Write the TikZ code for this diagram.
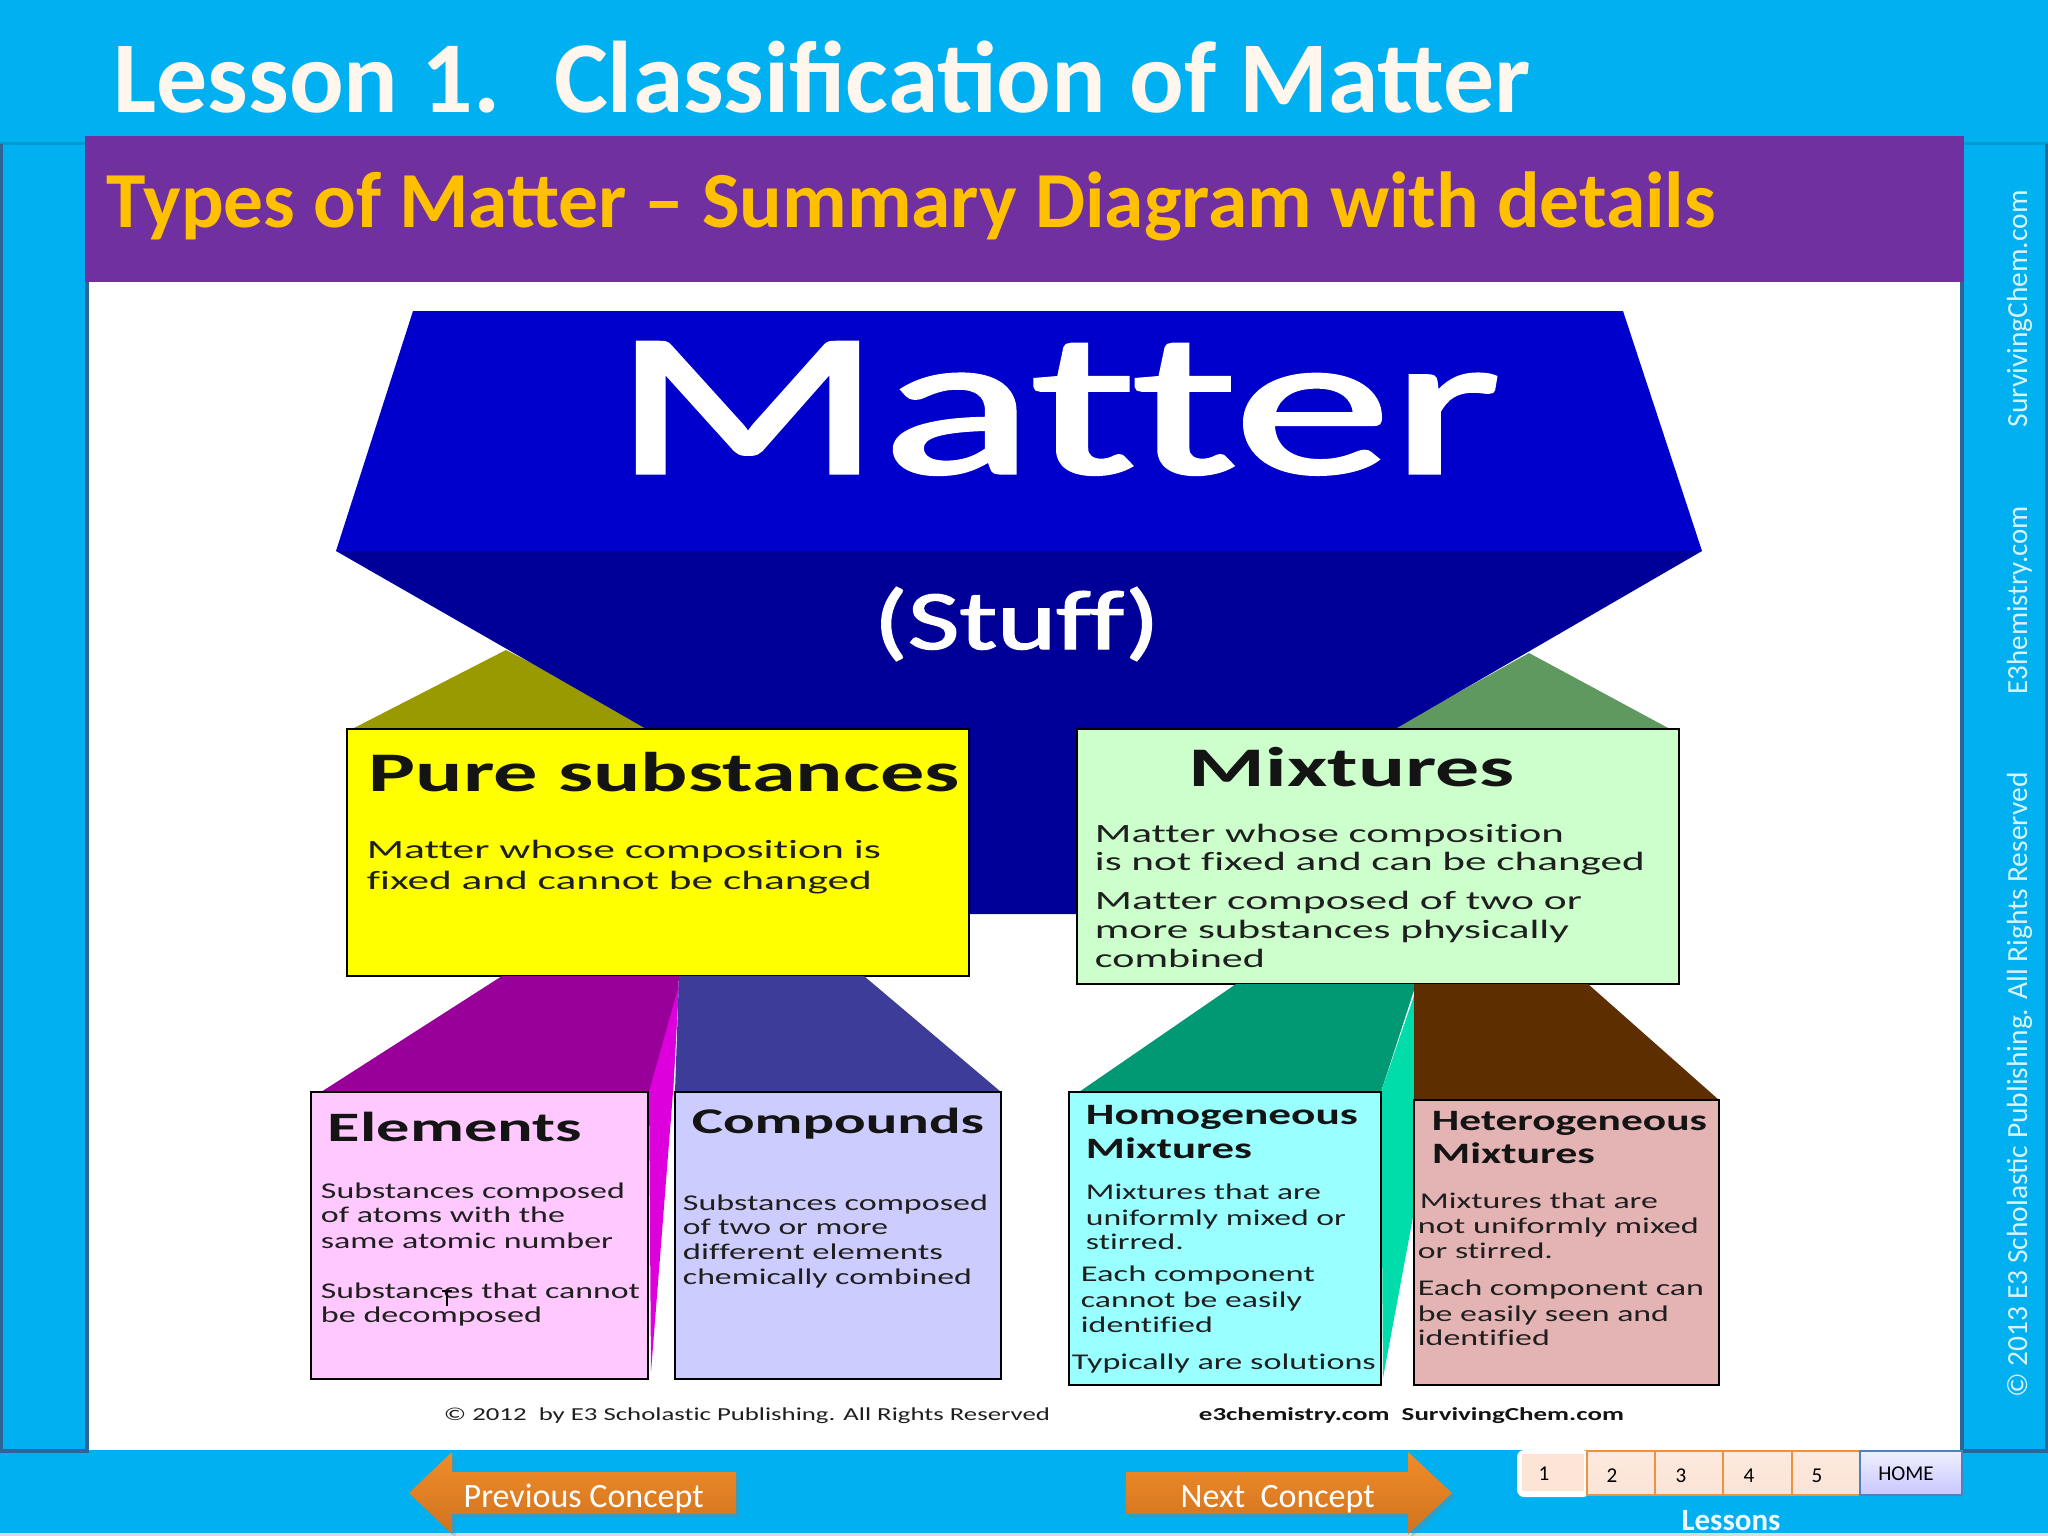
\documentclass[tikz,border=0pt]{standalone}
\usepackage{graphicx}
\usepackage{fontspec}
\setmainfont{Carlito}
\newfontfamily\imgfont[Ligatures=NoCommon]{Carlito}
\newfontfamily\midfont[Ligatures=NoCommon,FakeBold=1.6]{Carlito}
\usetikzlibrary{shadows}
\definecolor{skyband}{HTML}{00B0F0}
\definecolor{barline}{HTML}{2F6496}
\definecolor{plum}{HTML}{7030A0}
\definecolor{gold}{HTML}{FFC000}
\definecolor{topblue}{HTML}{0000CC}
\definecolor{lowblue}{HTML}{000099}
\definecolor{olive}{HTML}{999900}
\definecolor{sage}{HTML}{5F9960}
\definecolor{elemdark}{HTML}{990099}
\definecolor{elemside}{HTML}{DD00DD}
\definecolor{compdark}{HTML}{3D3D99}
\definecolor{homdark}{HTML}{009973}
\definecolor{homside}{HTML}{00DDAA}
\definecolor{hetdark}{HTML}{5C2E00}
\definecolor{purefill}{HTML}{FFFF00}
\definecolor{mixfill}{HTML}{CCFFCC}
\definecolor{elemfill}{HTML}{FFC8FF}
\definecolor{compfill}{HTML}{CCCCFF}
\definecolor{homfill}{HTML}{99FFFF}
\definecolor{hetfill}{HTML}{E4B4B4}
\definecolor{arrowtop}{HTML}{F28C28}
\definecolor{arrowlow}{HTML}{CF7320}
\definecolor{tabline}{HTML}{EE9240}
\definecolor{tabfill}{HTML}{FCE4D6}
\definecolor{homeline}{HTML}{4F81BD}
\newlength\pxu
\setlength\pxu{0.01cm}
\newcommand\fsz[1]{\fontsize{#1}{#1}\selectfont}
\newcommand\fitw[2]{\resizebox{#1\pxu}{\height}{#2}}
\tikzset{
	imgtext/.style={anchor=base west, inner sep=0pt, xshift=-0.5pt, text=black!88, font=\imgfont\fsz{#1}},
	imgbold/.style={anchor=base west, inner sep=0pt, xshift=-0.5pt, text=black!92, font=\imgfont\fsz{#1}\bfseries},
	sidetext/.style={anchor=base west, inner sep=0pt, rotate=90, text=white!85!skyband, font=\fsz{8.3}},
	tabtext/.style={anchor=base, inner sep=0pt, text=black, font=\fsz{6}},
	navarrow/.style={top color=arrowtop, bottom color=arrowlow, draw=none, drop shadow={shadow xshift=1pt, shadow yshift=-1pt, opacity=0.3}},
	navtext/.style={anchor=base west, inner sep=0pt, text=white, font=\fsz{9.7}},
	orangetab/.style={draw=tabline, line width=0.8pt, top color=tabfill!80!white, bottom color=tabfill},
	hometab/.style={draw=homeline, line width=0.8pt, top color=blue!6, bottom color=blue!22},
}
\begin{document}
\begin{tikzpicture}[x=0.01cm, y=-0.01cm]
			%%%%% PAGE %%%%%
			\useasboundingbox (0, 0) rectangle (2048, 1536);
			\fill[skyband] (0, 0) rectangle (2048, 1536);
			\fill[black!15] (0, 1533) rectangle (2048, 1536);
			\fill[skyband!88!black] (0, 142) rectangle (2048, 145);
			\draw[barline, line width=1.1pt] (1, 144) -- (1, 1451) -- (87, 1451) -- (87, 144);
			\draw[barline, line width=1.4pt] (1962, 144) -- (1962, 1451) -- (2047, 1451) -- (2047, 144);
			\fill[white] (89, 282) rectangle (1960, 1450);
			\fill[plum] (85, 136) rectangle (1964, 282);
			
			\node[anchor=base west, inner sep=0pt, text=white!93!orange, font=\fsz{28.95}\bfseries] (lessontitle) at (113, 112) {Lesson 1.~ Classification of Matter};
			\node[anchor=base west, inner sep=0pt, text=gold, font=\fsz{22.6}\bfseries] (slidetitle) at (106, 227) {Types of Matter -- Summary Diagram with details};
			
			\node[sidetext] (sideA) at (2027, 1398) {\fitw{625}{© 2013 E3 Scholastic Publishing. All Rights Reserved}};
			\node[sidetext] (sideB) at (2027, 695) {\fitw{188}{E3hemistry.com}};
			\node[sidetext] (sideC) at (2027, 428) {\fitw{237}{SurvivingChem.com}};
			
			%%%%% MATTER %%%%%
			\fill[olive] (506, 650) -- (352, 729) -- (660, 729) -- cycle;
			\fill[sage] (1529, 653) -- (1393, 729) -- (1670, 729) -- cycle;
			\fill[lowblue] (336, 551) -- (1702, 551) -- (1076, 914) -- (969, 914) -- cycle;
			\fill[topblue] (413, 311) -- (1623, 311) -- (1702, 551) -- (336, 551) -- cycle;
			\node[anchor=base west, inner sep=0pt, text=white, font=\midfont\fsz{57.9}] (mattername) at (612, 473) {\fitw{888}{Matter}};
			\node[anchor=base west, inner sep=0pt, text=white, font=\midfont\fsz{24}] (stuffname) at (873, 649) {\fitw{286}{(Stuff)}};
			
			%%%%% SECOND ROW %%%%%
			\draw[fill=purefill, line width=0.6pt] (347, 729) rectangle (969, 976);
			\draw[fill=mixfill, line width=0.6pt] (1077, 729) rectangle (1679, 984);
			
			\node[imgbold=15.9] (purename) at (370, 791) {\fitw{591}{Pure substances}};
			\node[imgtext=7.5] (pureA) at (368, 858) {\fitw{514}{Matter whose composition is}};
			\node[imgtext=7.5] (pureB) at (368, 889) {\fitw{505}{fixed and cannot be changed}};
			
			\node[imgbold=15.9] (mixname) at (1190, 786) {\fitw{326}{Mixtures}};
			\node[imgtext=7.5] (mixA) at (1096, 842) {\fitw{469}{Matter whose composition}};
			\node[imgtext=7.5] (mixB) at (1096, 870) {\fitw{550}{is not fixed and can be changed}};
			\node[imgtext=7.5] (mixC) at (1096, 909) {\fitw{487}{Matter composed of two or}};
			\node[imgtext=7.5] (mixD) at (1096, 938) {\fitw{474}{more substances physically}};
			\node[imgtext=7.5] (mixE) at (1096, 967) {\fitw{170}{combined}};
			
			%%%%% THIRD ROW, LEFT %%%%%
			\fill[elemdark] (502, 976) -- (679, 976) -- (673, 1092) -- (321, 1092) -- cycle;
			\fill[elemside] (679, 985) -- (649, 1092) -- (651, 1372) -- (673, 1092) -- cycle;
			\fill[compdark] (679, 976) -- (864, 976) -- (1001, 1092) -- (675, 1092) -- cycle;
			\draw[fill=elemfill, line width=0.6pt] (311, 1092) rectangle (648, 1379);
			\draw[fill=compfill, line width=0.6pt] (675, 1092) rectangle (1001, 1379);
			
			\node[imgbold=11.9] (elemname) at (329, 1141) {\fitw{254}{Elements}};
			\node[imgtext=6.4] (elemA) at (322, 1198) {\fitw{304}{Substances composed}};
			\node[imgtext=6.4] (elemB) at (322, 1222) {\fitw{244}{of atoms with the}};
			\node[imgtext=6.4] (elemC) at (322, 1248) {\fitw{292}{same atomic number}};
			\node[imgtext=6.4] (elemD) at (322, 1298) {\fitw{319}{Substances that cannot}};
			\node[imgtext=6.4] (elemE) at (322, 1322) {\fitw{221}{be decomposed}};
			\draw[line width=0.5pt] (447, 1290) -- (447, 1306);
			\draw[line width=0.4pt] (442, 1291) -- (452, 1291);
			
			\node[imgbold=10.3] (compname) at (693, 1133) {\fitw{292}{Compounds}};
			\node[imgtext=6.4] (compA) at (684, 1210) {\fitw{305}{Substances composed}};
			\node[imgtext=6.4] (compB) at (684, 1234) {\fitw{205}{of two or more}};
			\node[imgtext=6.4] (compC) at (684, 1259) {\fitw{260}{different elements}};
			\node[imgtext=6.4] (compD) at (684, 1284) {\fitw{289}{chemically combined}};
			
			%%%%% THIRD ROW, RIGHT %%%%%
			\fill[homdark] (1236, 984) -- (1416, 984) -- (1381, 1092) -- (1079, 1092) -- cycle;
			\fill[homside] (1416, 990) -- (1381, 1092) -- (1383, 1378) -- (1413, 1217) -- cycle;
			\fill[hetdark] (1414, 984) -- (1588, 984) -- (1719, 1100) -- (1414, 1100) -- cycle;
			\draw[fill=homfill, line width=0.6pt] (1069, 1092) rectangle (1381, 1385);
			\draw[fill=hetfill, line width=0.6pt] (1414, 1100) rectangle (1719, 1385);
			
			\node[imgbold=8.4] (homname) at (1087, 1124) {\fitw{272}{Homogeneous}};
			\node[imgbold=8.4] (homnameB) at (1087, 1158) {\fitw{166}{Mixtures}};
			\node[imgtext=6.4] (homA) at (1087, 1199) {\fitw{235}{Mixtures that are}};
			\node[imgtext=6.4] (homB) at (1087, 1225) {\fitw{260}{uniformly mixed or}};
			\node[imgtext=6.4] (homC) at (1087, 1249) {\fitw{98}{stirred.}};
			\node[imgtext=6.4] (homD) at (1082, 1281) {\fitw{234}{Each component}};
			\node[imgtext=6.4] (homE) at (1082, 1307) {\fitw{221}{cannot be easily}};
			\node[imgtext=6.4] (homF) at (1082, 1332) {\fitw{132}{identified}};
			\node[imgtext=6.4] (homG) at (1073, 1369) {\fitw{304}{Typically are solutions}};
			
			\node[imgbold=8.4] (hetname) at (1433, 1130) {\fitw{275}{Heterogeneous}};
			\node[imgbold=8.4] (hetnameB) at (1433, 1163) {\fitw{163}{Mixtures}};
			\node[imgtext=6.4] (hetA) at (1421, 1208) {\fitw{238}{Mixtures that are}};
			\node[imgtext=6.4] (hetB) at (1419, 1233) {\fitw{281}{not uniformly mixed}};
			\node[imgtext=6.4] (hetC) at (1419, 1258) {\fitw{135}{or stirred.}};
			\node[imgtext=6.4] (hetD) at (1419, 1295) {\fitw{286}{Each component can}};
			\node[imgtext=6.4] (hetE) at (1419, 1321) {\fitw{251}{be easily seen and}};
			\node[imgtext=6.4] (hetF) at (1419, 1345) {\fitw{132}{identified}};
			
			\node[imgtext=5.2] (copyA) at (445, 1420) {\fitw{606}{© 2012~ by E3 Scholastic Publishing. All Rights Reserved}};
			\node[imgbold=5.2] (copyB) at (1200, 1420) {\fitw{425}{e3chemistry.com~ SurvivingChem.com}};
			
			%%%%% NAVIGATION %%%%%
			\path[navarrow] (409, 1493) -- (452, 1452) -- (452, 1472) -- (736, 1472) -- (736, 1514) -- (452, 1514) -- (452, 1534) -- cycle;
			\path[navarrow] (1452, 1493) -- (1408, 1452) -- (1408, 1472) -- (1126, 1472) -- (1126, 1514) -- (1408, 1514) -- (1408, 1534) -- cycle;
			\node[navtext] (prevlabel) at (463, 1507) {\fitw{240}{Previous Concept}};
			\node[navtext] (nextlabel) at (1180, 1507) {\fitw{194}{Next~ Concept}};
			
			\fill[white, rounded corners=2pt] (1517, 1450) rectangle (1590, 1497);
			\fill[tabfill] (1522, 1454) rectangle (1584, 1491);
			\draw[orangetab] (1587, 1451) rectangle (1655, 1495);
			\draw[orangetab] (1655, 1451) rectangle (1723, 1495);
			\draw[orangetab] (1723, 1451) rectangle (1792, 1495);
			\draw[orangetab] (1792, 1451) rectangle (1860, 1495);
			\draw[hometab] (1860, 1451) rectangle (1962, 1495);
			\node[tabtext] (tabA) at (1544, 1480) {1};
			\node[tabtext] (tabB) at (1612, 1482) {2};
			\node[tabtext] (tabC) at (1681, 1482) {3};
			\node[tabtext] (tabD) at (1749, 1482) {4};
			\node[tabtext] (tabE) at (1817, 1482) {5};
			\node[tabtext] (tabhome) at (1906, 1480) {HOME};
			\node[anchor=base, inner sep=0pt, text=white!93!skyband, font=\fsz{8.8}\bfseries] (tabcaption) at (1731, 1530) {Lessons};
			%%%%% END %%%%%
		\end{tikzpicture}
\end{document}
